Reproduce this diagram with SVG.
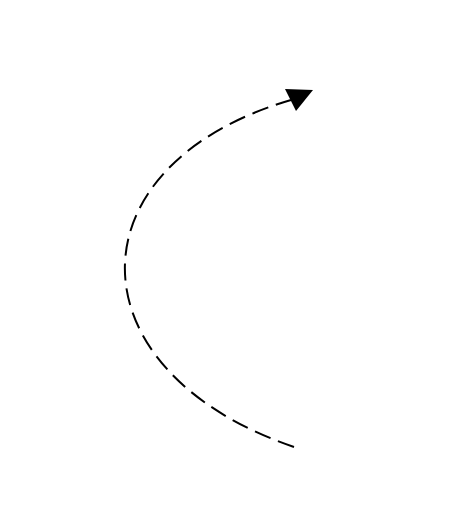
<svg xmlns="http://www.w3.org/2000/svg" width="468" height="512" viewBox="0 0 468 512">
<defs>
<style>
.edge{fill:none;stroke:#000;stroke-width:2;stroke-dasharray:17 8}
.head{fill:#000}
</style>
</defs>
<rect width="468" height="512" fill="#fff"/>
<g id="connectors">
<path class="edge" d="M294,447 C69,370 69,165 291,100"/>
<polygon class="head" points="285,89 313,90 296,111"/>
</g>
</svg>
